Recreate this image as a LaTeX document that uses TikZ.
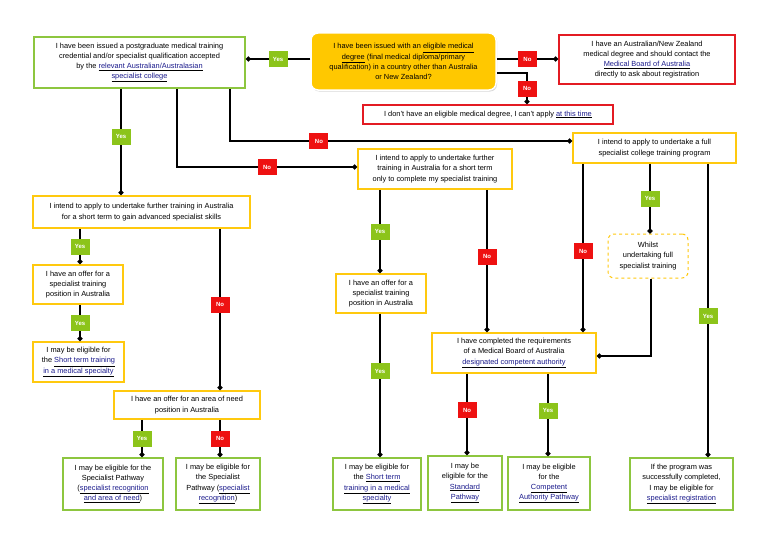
\documentclass[tikz,border=0pt]{standalone}
\usepackage{fontspec}
\setmainfont{Liberation Sans}
\usetikzlibrary{arrows.meta,shadows}
\definecolor{gbord}{HTML}{8DC63F}
\definecolor{ybord}{HTML}{FFC90E}
\definecolor{rbord}{HTML}{E31B23}
\definecolor{qfill}{HTML}{FFC800}
\definecolor{linkc}{HTML}{1A1A8C}
\definecolor{yesc}{HTML}{8CC41A}
\definecolor{noc}{HTML}{EE1111}
\newcommand{\lk}[1]{\underline{\textcolor{linkc}{#1}}}
\begin{document}
\begin{tikzpicture}[x=1pt,y=-1pt,
  every node/.style={font=\fontsize{7.4}{10.2}\selectfont,align=center,inner sep=1pt},
  bx/.style={draw,line width=1.8pt,fill=white},
  gbox/.style={bx,draw=gbord},
  ybox/.style={bx,draw=ybord},
  rbox/.style={bx,draw=rbord},
  lbl/.style={font=\fontsize{6}{6}\selectfont\bfseries,text=white,minimum width=19pt,minimum height=16pt,inner sep=0pt},
  yes/.style={lbl,fill=yesc},
  no/.style={lbl,fill=noc},
  con/.style={line width=1.5pt,-{Circle[length=5pt]}},
  ln/.style={line width=1.5pt}]
\useasboundingbox (0,0) rectangle (768,543);
\fill[white] (0,0) rectangle (768,543);
% nodes
\node[gbox,minimum width=211pt,minimum height=51pt] (A) at (139.5,62.5) {I have been issued a postgraduate medical training\\credential and/or specialist qualification accepted\\by the \lk{relevant Australian/Australasian}\\\lk{specialist college}};
\node[draw=white,line width=1.5pt,fill=qfill,rounded corners=7pt,drop shadow={shadow xshift=1pt,shadow yshift=-1.5pt,opacity=0.3},minimum width=185pt,minimum height=57pt] (Q) at (403.5,61.5) {I have been issued with an \underline{eligible medical}\\\underline{degree} (final medical diploma/primary\\qualification) in a country other than Australia\\or New Zealand?};
\node[rbox,minimum width=176pt,minimum height=49pt] (R1) at (647,59.5) {I have an Australian/New Zealand\\medical degree and should contact the\\\lk{Medical Board of Australia}\\directly to ask about registration};
\node[rbox,minimum width=250pt,minimum height=19pt] (R2) at (488,114.5) {I don't have an eligible medical degree, I can't apply \lk{at this time}};
\node[ybox,minimum width=163pt,minimum height=30pt] (F) at (654.5,148) {I intend to apply to undertake a full\\specialist college training program};
\node[ybox,minimum width=154pt,minimum height=40pt] (S) at (435,169) {I intend to apply to undertake further\\training in Australia for a short term\\only to complete my specialist training};
\node[ybox,minimum width=217pt,minimum height=32pt] (G) at (141.5,212) {I intend to apply to undertake further training in Australia\\for a short term to gain advanced specialist skills};
\node[ybox,minimum width=90pt,minimum height=39pt] (O1) at (78,284.5) {I have an offer for a\\specialist training\\position in Australia};
\node[ybox,minimum width=91pt,minimum height=40pt] (E1) at (78.5,362) {I may be eligible for\\the \lk{Short term training}\\\lk{in a medical specialty}};
\node[ybox,minimum width=146pt,minimum height=28pt] (AN) at (187,405) {I have an offer for an area of need\\position in Australia};
\node[gbox,minimum width=100pt,minimum height=52pt] (P1) at (113,484) {I may be eligible for the\\Specialist Pathway\\(\lk{specialist recognition}\\\lk{and area of need})};
\node[gbox,minimum width=84pt,minimum height=52pt] (P2) at (218,484) {I may be eligible for\\the Specialist\\Pathway (\lk{specialist}\\\lk{recognition})};
\node[ybox,minimum width=90pt,minimum height=39pt] (O2) at (381,293.5) {I have an offer for a\\specialist training\\position in Australia};
\node[ybox,minimum width=164pt,minimum height=40pt] (CA) at (514,353) {I have completed the requirements\\of a Medical Board of Australia\\\lk{designated competent authority}};
\node[draw=ybord,dashed,line width=1pt,rounded corners=6pt,minimum width=80pt,minimum height=44pt] (W) at (648,256) {Whilst\\undertaking full\\specialist training};
\node[gbox,minimum width=88pt,minimum height=52pt] (E2) at (377,484) {I may be eligible for\\the \lk{Short term}\\\lk{training in a medical}\\\lk{specialty}};
\node[gbox,minimum width=74pt,minimum height=54pt] (E3) at (465,483) {I may be\\eligible for the\\\lk{Standard}\\\lk{Pathway}};
\node[gbox,minimum width=82pt,minimum height=53pt] (E4) at (549,483.5) {I may be eligible\\for the\\\lk{Competent}\\\lk{Authority Pathway}};
\node[gbox,minimum width=103pt,minimum height=52pt] (E5) at (681.5,484) {If the program was\\successfully completed,\\I may be eligible for\\\lk{specialist registration}};
% connectors
\draw[con] (Q.west |- 0,59) -- node[yes]{Yes} (A.east |- 0,59);
\draw[con] (Q.east |- 0,59) -- node[no]{No} (R1.west |- 0,59);
\draw[con] (Q.east |- 0,73) -- (527,73) -- node[no,pos=0.5]{No} (527,0 |- R2.north);
\draw[con] (121,0 |- A.south) -- node[yes,pos=0.45]{Yes} (121,0 |- G.north);
\draw[con] (177,0 |- A.south) -- (177,167) -- node[no]{No} (S.west |- 0,167);
\draw[con] (230,0 |- A.south) -- (230,141) -- node[no,pos=0.26]{No} (F.west |- 0,141);
\draw[con] (80,0 |- G.south) -- node[yes]{Yes} (80,0 |- O1.north);
\draw[con] (80,0 |- O1.south) -- node[yes]{Yes} (80,0 |- E1.north);
\draw[con] (220,0 |- G.south) -- node[no,pos=0.47]{No} (220,0 |- AN.north);
\draw[con] (142,0 |- AN.south) -- node[yes]{Yes} (142,0 |- P1.north);
\draw[con] (220,0 |- AN.south) -- node[no]{No} (220,0 |- P2.north);
\draw[con] (380,0 |- S.south) -- node[yes,pos=0.5]{Yes} (380,0 |- O2.north);
\draw[con] (380,0 |- O2.south) -- node[yes,pos=0.4]{Yes} (380,0 |- E2.north);
\draw[con] (487,0 |- S.south) -- node[no,pos=0.47]{No} (487,0 |- CA.north);
\draw[con] (583,0 |- F.south) -- node[no,pos=0.52]{No} (583,0 |- CA.north);
\draw[con] (650,0 |- F.south) -- node[yes]{Yes} (650,0 |- W.north);
\draw[con] (708,0 |- F.south) -- node[yes,pos=0.52]{Yes} (708,0 |- E5.north);
\draw[con] (651,0 |- W.south) -- (651,356) -- (CA.east |- 0,356);
\draw[con] (467,0 |- CA.south) -- node[no,pos=0.45]{No} (467,0 |- E3.north);
\draw[con] (548,0 |- CA.south) -- node[yes,pos=0.45]{Yes} (548,0 |- E4.north);
\end{tikzpicture}
\end{document}
